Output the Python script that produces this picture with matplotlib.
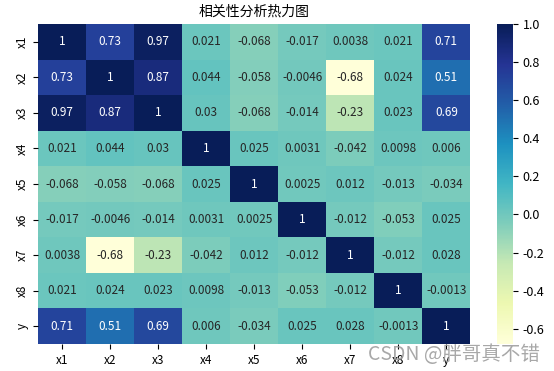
import numpy as np
import matplotlib
matplotlib.use("Agg")
import matplotlib.pyplot as plt
import seaborn as sns

plt.rcParams['font.family'] = ['Noto Sans CJK SC', 'DejaVu Sans']
plt.rcParams['axes.unicode_minus'] = False

labels = ["x1", "x2", "x3", "x4", "x5", "x6", "x7", "x8", "y"]

# correlation values (symmetric)
row_x1 = [1, 0.73, 0.97, 0.021, -0.068, -0.017, 0.0038, 0.021, 0.71]
row_x2 = [0.73, 1, 0.87, 0.044, -0.058, -0.0046, -0.68, 0.024, 0.51]
row_x3 = [0.97, 0.87, 1, 0.03, -0.068, -0.014, -0.23, 0.023, 0.69]
row_x4 = [0.021, 0.044, 0.03, 1, 0.025, 0.0031, -0.042, 0.0098, 0.006]
row_x5 = [-0.068, -0.058, -0.068, 0.025, 1, 0.0025, 0.012, -0.013, -0.034]
row_x6 = [-0.017, -0.0046, -0.014, 0.0031, 0.0025, 1, -0.012, -0.053, 0.025]
row_x7 = [0.0038, -0.68, -0.23, -0.042, 0.012, -0.012, 1, -0.012, 0.028]
row_x8 = [0.021, 0.024, 0.023, 0.0098, -0.013, -0.053, -0.012, 1, -0.0013]
row_y = [0.71, 0.51, 0.69, 0.006, -0.034, 0.025, 0.028, -0.0013, 1]

corr = np.array([row_x1, row_x2, row_x3, row_x4, row_x5,
                 row_x6, row_x7, row_x8, row_y])

fig = plt.figure(figsize=(5.54, 3.71), dpi=100)
ax = fig.add_axes([0.069, 0.073, 0.78, 0.862])
cax = fig.add_axes([0.897, 0.073, 0.029, 0.862])

sns.heatmap(corr, ax=ax, cbar_ax=cax, cmap="YlGnBu", annot=True, fmt=".2g",
            annot_kws={"fontsize": 8.5},
            xticklabels=labels, yticklabels=labels)

ax.set_title("相关性分析热力图", fontsize=10, pad=6)
ax.tick_params(labelsize=8.5)
plt.setp(ax.get_yticklabels(), rotation=90, va="center")
plt.setp(ax.get_xticklabels(), rotation=0)
cax.tick_params(labelsize=9)

# watermark (overlaps x8 / y labels as in the original)
fig.text(0.975, 0.015, "CSDN @胖哥真不错", ha="right", va="bottom",
         fontsize=14, color="#999999", alpha=0.85)

fig.savefig("out.png", dpi=100)
